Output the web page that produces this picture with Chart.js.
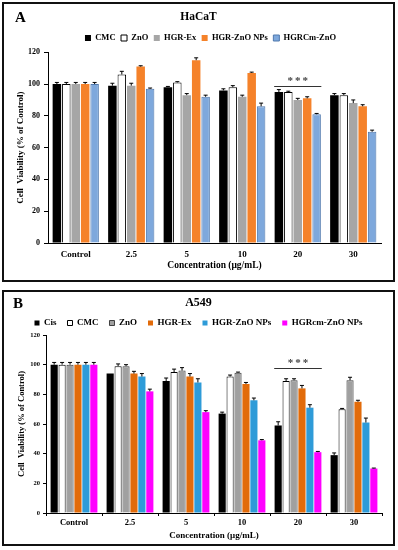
<!DOCTYPE html>
<html>
<head>
<meta charset="utf-8">
<script src="https://cdn.jsdelivr.net/npm/chart.js@4.4.1/dist/chart.umd.min.js"></script>
<style>
  body { margin: 0; background: #fff; width: 398px; height: 550px; position: relative; }
  .panel { position: absolute; left: 2px; width: 389px; border: 2px solid #111; }
  #panelA { top: 2px; height: 276px; }
  #panelB { top: 290px; height: 252px; }
  .tag { position: absolute; font: bold 15px 'Liberation Serif', serif; line-height: 1; z-index: 2; }
  canvas { position: absolute; left: 0; top: 0; }
</style>
</head>
<body>
<div class="panel" id="panelA">
  <span class="tag" style="left:11px;top:6px">A</span>
  <canvas id="chartA" width="389" height="276"></canvas>
</div>
<div class="panel" id="panelB">
  <span class="tag" style="left:9px;top:4px">B</span>
  <canvas id="chartB" width="389" height="252"></canvas>
</div>
<script>
const concentrations = ["Control", "2.5", "5", "10", "20", "30"];

// panel A - HaCaT
const hacatCMC = [100, 99, 98, 96, 95, 93];
const hacatZnO = [100, 106, 101, 98, 95, 93];
const hacatEx = [100, 99, 93, 92, 90, 88];
const hacatNPs = [100, 111, 115, 107, 91, 86];
const hacatCm = [100, 97, 92, 86, 81, 70];
const hacatCMCErr = [1, 1.5, 0.5, 1, 1.5, 1];
const hacatZnOErr = [1, 2, 0.5, 1, 0.5, 1];
const hacatExErr = [1, 1.5, 1, 1, 1, 2];
const hacatNPsErr = [1, 0.5, 1.5, 0.5, 1, 1];
const hacatCmErr = [1, 0.5, 1, 2, 0.5, 1];

// panel B - A549
const a549Cis = [100, 94, 89, 67, 59, 39];
const a549CMC = [100, 99, 95, 92, 89, 70];
const a549ZnO = [100, 99, 96, 94.5, 89.5, 89.5];
const a549Ex = [100, 94, 92, 87, 84, 75];
const a549NPs = [100, 92, 88, 76, 71, 61];
const a549Cm = [100, 82, 68, 49, 41, 30];
const a549CisErr = [1.5, 0, 2, 1, 2.5, 1.5];
const a549CMCErr = [1.5, 1.5, 2, 1, 1.5, 0.5];
const a549ZnOErr = [1.5, 1, 2, 0.5, 1, 2];
const a549ExErr = [1.5, 1.5, 2, 1, 2, 1];
const a549NPsErr = [1.5, 2, 2.5, 1.5, 2, 3];
const a549CmErr = [1.5, 1.5, 1, 0.5, 0.5, 0.3];

Chart.defaults.font.family = "'Liberation Serif', serif";
Chart.defaults.font.weight = "bold";
Chart.defaults.color = "#000";

// upper error bars with caps
const errorBars = {
  id: "errorBars",
  afterDatasetsDraw(chart) {
    const ctx = chart.ctx;
    const y = chart.scales.y;
    ctx.save();
    ctx.strokeStyle = "#000";
    ctx.lineWidth = 1;
    chart.data.datasets.forEach((ds, i) => {
      chart.getDatasetMeta(i).data.forEach((bar, j) => {
        const e = ds.errors[j];
        if (!e) return;
        const top = y.getPixelForValue(ds.data[j] + e);
        ctx.beginPath();
        ctx.moveTo(bar.x, bar.y);
        ctx.lineTo(bar.x, top);
        ctx.moveTo(bar.x - 2, top);
        ctx.lineTo(bar.x + 2, top);
        ctx.stroke();
      });
    });
    ctx.restore();
  },
};

// "***" bracket over one group
const significance = {
  id: "significance",
  afterDatasetsDraw(chart, args, opts) {
    const x = chart.scales.x, y = chart.scales.y;
    const half = (x.width / chart.data.labels.length) * 0.85 / 2;
    const cx = x.getPixelForValue(opts.index);
    const ly = Math.round(y.getPixelForValue(opts.value)) + 0.5;
    const ctx = chart.ctx;
    ctx.save();
    ctx.strokeStyle = "#333";
    ctx.lineWidth = 1;
    ctx.beginPath();
    ctx.moveTo(cx - half, ly);
    ctx.lineTo(cx + half, ly);
    ctx.stroke();
    ctx.fillStyle = "#444";
    ctx.font = "bold 11px 'Liberation Serif', serif";
    ctx.letterSpacing = "2px";
    ctx.textAlign = "center";
    ctx.textBaseline = "bottom";
    ctx.fillText(opts.text, cx + 1, ly);
    ctx.restore();
  },
};

// nudge the legend row
const legendOffset = {
  id: "legendOffset",
  afterLayout(chart, args, opts) {
    const lg = chart.legend;
    lg.left += opts.dx || 0;
    lg.right += opts.dx || 0;
    lg.top += opts.dy || 0;
    lg.bottom += opts.dy || 0;
  },
};

function bars(label, data, errors, fill, border, bw) {
  return {
    label: label,
    data: data,
    errors: errors,
    backgroundColor: fill,
    borderColor: border,
    borderWidth: bw,
    categoryPercentage: 0.85,
    barPercentage: 0.9,
  };
}

const configA = {
  type: "bar",
  data: {
    labels: concentrations,
    datasets: [
      bars("CMC", hacatCMC, hacatCMCErr, "#000000", "#000000", 0),
      bars("ZnO", hacatZnO, hacatZnOErr, "#ffffff", "#000000", 1),
      bars("HGR-Ex", hacatEx, hacatExErr, "#a6a6a6", "#a6a6a6", 0),
      bars("HGR-ZnO NPs", hacatNPs, hacatNPsErr, "#f5822a", "#f5822a", 0),
      bars("HGRCm-ZnO", hacatCm, hacatCmErr, "#7ea8dc", "#4f78ad", 1),
    ],
  },
  options: {
    responsive: false,
    animation: false,
    layout: { padding: 0 },
    plugins: {
      title: {
        display: true,
        text: "HaCaT",
        color: "#000",
        font: { size: 11.5, weight: "bold" },
        padding: { top: 6.1, bottom: 4.35 },
      },
      legend: {
        labels: {
          boxWidth: 6,
          boxHeight: 6,
          padding: 5.5,
          color: "#000",
          font: { size: 8.5, weight: "bold" },
        },
      },
      tooltip: { enabled: false },
      legendOffset: { dx: 12, dy: 0 },
      significance: { index: 4, value: 99, text: "***" },
    },
    scales: {
      x: {
        ticks: { padding: 6.6, font: { size: 9, weight: "bold" } },
        grid: { display: false, drawTicks: false },
        border: { color: "#000", width: 1 },
        title: {
          display: true,
          text: "Concentration (μg/mL)",
          font: { size: 9.5, weight: "bold" },
          padding: { top: 0, bottom: 8.3 },
        },
        afterFit: (s) => { s.height = 37; },
      },
      y: {
        min: 0,
        max: 120,
        ticks: { stepSize: 20, padding: 4, font: { size: 8, weight: "bold" } },
        grid: { drawOnChartArea: false, tickLength: 4, color: "#000" },
        border: { color: "#000", width: 1 },
        title: {
          display: true,
          text: "Cell  Viability (% of Control)",
          font: { size: 9, weight: "bold" },
          padding: { top: 11.6, bottom: 0 },
        },
        afterFit: (s) => { s.width = 44; },
      },
      pad: {
        position: "right",
        grid: { display: false },
        ticks: { display: false },
        border: { display: false },
        afterFit: (s) => { s.width = 12; },
      },
    },
  },
  plugins: [errorBars, significance, legendOffset],
};

const configB = {
  type: "bar",
  data: {
    labels: concentrations,
    datasets: [
      bars("Cis", a549Cis, a549CisErr, "#000000", "#000000", 0),
      bars("CMC", a549CMC, a549CMCErr, "#ffffff", "#000000", 1),
      bars("ZnO", a549ZnO, a549ZnOErr, "#a0a0a0", "#404040", 1),
      bars("HGR-Ex", a549Ex, a549ExErr, "#e26b0a", "#e26b0a", 0),
      bars("HGR-ZnO NPs", a549NPs, a549NPsErr, "#2e9bd8", "#2e9bd8", 0),
      bars("HGRcm-ZnO NPs", a549Cm, a549CmErr, "#ff00ff", "#ff00ff", 0),
    ],
  },
  options: {
    responsive: false,
    animation: false,
    layout: { padding: 0 },
    plugins: {
      title: {
        display: true,
        text: "A549",
        color: "#000",
        font: { size: 12, weight: "bold" },
        padding: { top: 3.8, bottom: -5.2 },
      },
      legend: {
        labels: {
          boxWidth: 5,
          boxHeight: 5,
          padding: 11,
          color: "#000",
          font: { size: 9, weight: "bold" },
        },
      },
      tooltip: { enabled: false },
      legendOffset: { dx: 0, dy: 2.5 },
      significance: { index: 4, value: 98, text: "***" },
    },
    scales: {
      x: {
        ticks: { padding: 1.3, font: { size: 8.5, weight: "bold" } },
        grid: { drawOnChartArea: false, tickLength: 3, color: "#000" },
        border: { color: "#000", width: 1 },
        title: {
          display: true,
          text: "Concentration (μg/mL)",
          font: { size: 9, weight: "bold" },
          padding: { top: 0, bottom: 3.3 },
        },
        afterFit: (s) => { s.height = 31; },
      },
      y: {
        min: 0,
        max: 120,
        ticks: { stepSize: 20, padding: 3, font: { size: 6.5, weight: "bold" } },
        grid: { drawOnChartArea: false, tickLength: 3, color: "#000" },
        border: { color: "#000", width: 1 },
        title: {
          display: true,
          text: "Cell  Viability (% of Control)",
          font: { size: 8.5, weight: "bold" },
          padding: { top: 12.9, bottom: 0 },
        },
        afterFit: (s) => { s.width = 42; },
      },
      pad: {
        position: "right",
        grid: { display: false },
        ticks: { display: false },
        border: { display: false },
        afterFit: (s) => { s.width = 11; },
      },
    },
  },
  plugins: [errorBars, significance, legendOffset],
};

const chartA = new Chart(document.getElementById("chartA"), configA);
const chartB = new Chart(document.getElementById("chartB"), configB);
</script>
</body>
</html>
